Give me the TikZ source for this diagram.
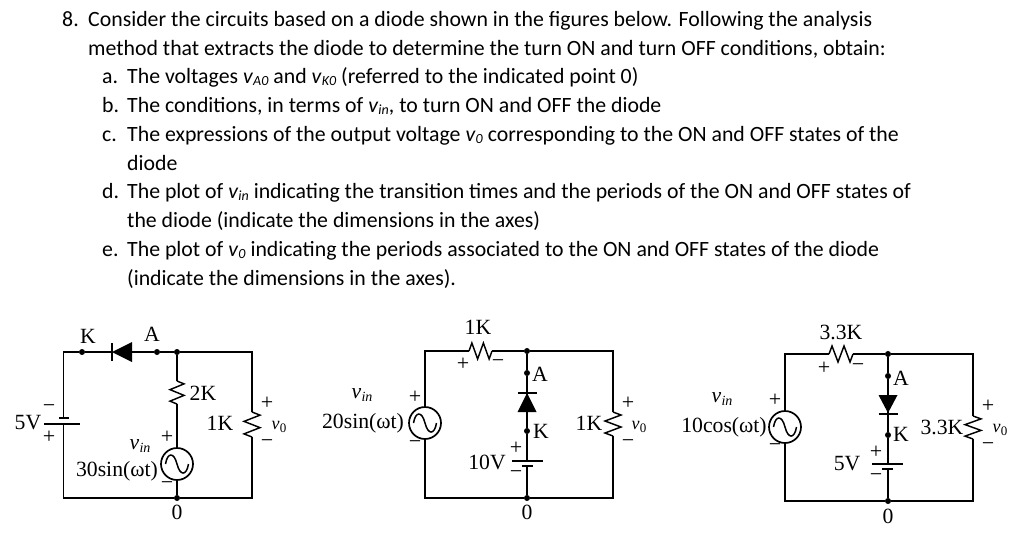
\documentclass[tikz,border=0pt]{standalone}
\usepackage{fontspec}
\setmainfont{Carlito}
\newfontfamily\cktfont{Liberation Serif}
\usetikzlibrary{calc}
\newcommand{\vs}[1]{\textit{v}{\fontsize{14}{14}\selectfont\raisebox{-2pt}{\textit{#1}}}}
\newcommand{\cv}[1]{{\itshape v\kern0.3pt{\fontsize{14}{14}\selectfont\raisebox{-3pt}{#1}}}}
\newcommand{\cvz}{{\fontsize{18}{18}\selectfont\itshape v\kern0.3pt{\fontsize{13}{13}\selectfont\raisebox{-3pt}{\upshape 0}}}}
\tikzset{
 wire/.style={line width=1.45pt,line join=miter},
 dotn/.style={circle,fill=black,inner sep=0pt,minimum size=6pt},
 txt/.style={anchor=base west,inner sep=0pt,font=\fontsize{21.8}{26}\selectfont},
 lab/.style={inner sep=0pt,font=\cktfont\fontsize{21.7}{24}\selectfont},
 sgn/.style={inner sep=0pt,font=\cktfont\fontsize{22}{24}\selectfont},
 src/.style={circle,draw,line width=1.7pt,minimum size=32pt,inner sep=0pt},
 plate/.style={line width=1.7pt}
}
% vertical resistor: name, x, y0, y1, amplitude
\newcommand{\resv}[5]{%
 \pgfmathsetmacro{\hh}{(#4-#3)/8}
 \coordinate (#1a) at (#2,#3);
 \coordinate (#1b) at (#2,#4);
 \draw[wire] (#1a) -- ++(#5,\hh) -- ++(-2*#5,2*\hh) -- ++(2*#5,2*\hh) -- ++(-2*#5,2*\hh) -- (#1b);}
\newcommand{\resh}[5]{%
 \pgfmathsetmacro{\hh}{(#4-#3)/8}
 \coordinate (#1a) at (#3,#2);
 \coordinate (#1b) at (#4,#2);
 \draw[wire] (#1a) -- ++(\hh,-#5) -- ++(2*\hh,2*#5) -- ++(2*\hh,-2*#5) -- ++(2*\hh,2*#5) -- (#1b);}
\newcommand{\sinewave}[1]{%
 \draw[line width=1.5pt] ($(#1.center)+(-11.5,0)$) .. controls +(2,-12) and +(-3,-12) .. (#1.center) .. controls +(3,12) and +(-2,12) .. ($(#1.center)+(11.5,0)$);}
\begin{document}
\begin{tikzpicture}[x=1pt,y=-1pt]
\useasboundingbox[fill=white] (0,0) rectangle (1024,550);
% ---- text
\node[txt] (t00) at (62,26) {8.};
\node[txt] (t0) at (88,26) {Consider the circuits based on a diode shown in the figures below. Following the analysis};
\node[txt] (t1) at (88,55) {method that extracts the diode to determine the turn ON and turn OFF conditions, obtain:};
\node[txt] (la) at (102,83) {a.}; \node[txt] (ta) at (127,83) {The voltages \vs{A0} and \vs{K0} (referred to the indicated point 0)};
\node[txt] (lb) at (102,112) {b.}; \node[txt] (tb) at (127,112) {The conditions, in terms of \vs{in}, to turn ON and OFF the diode};
\node[txt] (lc) at (102,141) {c.}; \node[txt] (tc) at (127,141) {The expressions of the output voltage \vs{0} corresponding to the ON and OFF states of the};
\node[txt] (tc2) at (127,170) {diode};
\node[txt] (ld) at (102,198) {d.}; \node[txt] (td) at (127,198) {The plot of \vs{in} indicating the transition times and the periods of the ON and OFF states of};
\node[txt] (td2) at (127,227) {the diode (indicate the dimensions in the axes)};
\node[txt] (le) at (102,256) {e.}; \node[txt] (te) at (127,256) {The plot of \vs{0} indicating the periods associated to the ON and OFF states of the diode};
\node[txt] (te2) at (127,285) {(indicate the dimensions in the axes).};
% ---- circuit 1
\coordinate (atl) at (63.5,352); \coordinate (atr) at (252,352);
\coordinate (abl) at (63.5,498); \coordinate (abr) at (252,498);
\node[dotn] (aK) at (82,352) {}; \node[dotn] (aA) at (157,352) {};
\node[dotn] (aJ) at (177,352) {}; \node[dotn] (aG) at (177,498) {};
\coordinate (adb) at (112,352); \coordinate (adt) at (132,352);
\draw[wire] (aK) -- (atl) -- (63.5,418);
\draw[wire] (63.5,424) -- (abl) -- (aG) -- (abr) -- (252,437);
\draw[wire] (252,412) -- (atr) -- (aJ) -- (aA) -- (adt);
\draw[wire] (adb) -- (aK);
\fill (adb) -- (adt |- 0,342) -- (adt |- 0,362) -- cycle;
\draw[plate,line width=2.2pt] (112,343) -- (112,361);
\resv{ar}{177}{381}{404}{7}
\resv{as}{252}{412}{437}{8}
\node[src] (aS) at (177,464) {};
\sinewave{aS}
\draw[wire] (aJ) -- (ara); \draw[wire] (arb) -- (aS); \draw[wire] (aS) -- (aG);
\draw[plate] (44,424) -- (80,424); \draw[plate] (59,418) -- (69,418);
\node[lab] (aKl) at (88,336) {K}; \node[lab] (aAl) at (152,334) {A};
\node[lab] (a5V) at (28,423) {5V}; \node[sgn] (am1) at (49,409) {−}; \node[sgn] (ap1) at (49,437) {+};
\node[lab] (a2K) at (203,393) {2K}; \node[lab] (a1K) at (220,423) {1K};
\node[sgn] (ap2) at (267,403) {+}; \node[lab] (av0) at (279,427) {\cvz}; \node[sgn] (am2) at (267,444) {−};
\node[sgn] (ap3) at (167,437) {+}; \node[lab] (avin) at (140,446) {\cv{in}};
\node[lab] (asin) at (117,471) {30sin(ωt)}; \node[sgn] (am3) at (167,486) {−};
\node[lab] (a0) at (177,512) {0};
% ---- circuit 2
\coordinate (btl) at (425,351); \coordinate (btr) at (613,351);
\coordinate (bbl) at (425,498); \coordinate (bbr) at (613,498);
\node[dotn] (bJ) at (527,351) {}; \node[dotn] (bA) at (527,373) {};
\node[dotn] (bK) at (527,431) {}; \node[dotn] (bG) at (527,498) {};
\node[src] (bS) at (425,423) {};
\sinewave{bS}
\resh{br}{351}{469}{492}{8}
\resv{bs}{613}{412}{436}{8}
\draw[wire] (bS) -- (btl) -- (bra); \draw[wire] (brb) -- (bJ) -- (btr) -- (bsa);
\draw[wire] (bsb) -- (bbr) -- (bG) -- (bbl) -- (bS);
\draw[wire] (bJ) -- (bA) -- (bK) -- (527,461); \draw[wire] (527,466) -- (bG);
\fill (527,393) -- (536.5,412) -- (517.5,412) -- cycle;
\draw[plate,line width=2.2pt] (518,393) -- (537,393);
\draw[plate] (512,461) -- (543,461); \draw[plate] (522,466) -- (533,466);
\node[lab] (b1K) at (478,327) {1K}; \node[sgn] (bp1) at (463,364) {+}; \node[sgn] (bm1) at (498,364) {−};
\node[lab] (bAl) at (540,374) {A}; \node[lab] (bKl) at (541,431) {K};
\node[lab] (bvin) at (362,395) {\cv{in}}; \node[sgn] (bp2) at (415,397) {+};
\node[lab] (bsin) at (363,423) {20sin(ωt)}; \node[sgn] (bm2) at (415,445) {−};
\node[sgn] (bp3) at (516,448) {+}; \node[sgn] (bm3) at (516,475) {−}; \node[lab] (b10) at (487,462) {10V};
\node[lab] (b1K2) at (589,423) {1K}; \node[sgn] (bp4) at (628,403) {+};
\node[lab] (bv0) at (639,427) {\cvz}; \node[sgn] (bm4) at (628,444) {−};
\node[lab] (b0) at (527,512) {0};
% ---- circuit 3
\coordinate (ctl) at (785,354); \coordinate (ctr) at (973,354);
\coordinate (cbl) at (785,501); \coordinate (cbr) at (973,501);
\node[dotn] (cJ) at (888,354) {}; \node[dotn] (cA) at (888,376) {};
\node[dotn] (cK) at (888,435) {}; \node[dotn] (cG) at (888,501) {};
\node[src] (cS) at (785,427) {};
\sinewave{cS}
\resh{cr}{354}{829}{853}{8}
\resv{cs}{973}{416}{439}{8}
\draw[wire] (cS) -- (ctl) -- (cra); \draw[wire] (crb) -- (cJ) -- (ctr) -- (csa);
\draw[wire] (csb) -- (cbr) -- (cG) -- (cbl) -- (cS);
\draw[wire] (cJ) -- (cA) -- (cK) -- (888,464); \draw[wire] (888,469) -- (cG);
\fill (888,413) -- (897.5,395) -- (878.5,395) -- cycle;
\draw[plate,line width=2.2pt] (878.5,414) -- (897.5,414);
\draw[plate] (872,464) -- (903,464); \draw[plate] (882,469) -- (893,469);
\node[lab] (c33) at (841,332) {3.3K}; \node[sgn] (cp1) at (824,368) {+}; \node[sgn] (cm1) at (858,368) {−};
\node[lab] (cAl) at (901,378) {A}; \node[lab] (cKl) at (901,434) {K};
\node[lab] (cvin) at (722,399) {\cv{in}}; \node[sgn] (cp2) at (775,400) {+};
\node[lab] (ccos) at (724,427) {10cos(ωt)}; \node[sgn] (cm2) at (775,448) {−};
\node[sgn] (cp3) at (876,452) {+}; \node[sgn] (cm3) at (876,478) {−}; \node[lab] (c5V) at (847,464) {5V};
\node[lab] (c332) at (942,427) {3.3K}; \node[sgn] (cp4) at (988,406) {+};
\node[lab] (cv0) at (1000,430) {\cvz}; \node[sgn] (cm4) at (988,447) {−};
\node[lab] (c0) at (888,516) {0};
\end{tikzpicture}
\end{document}
